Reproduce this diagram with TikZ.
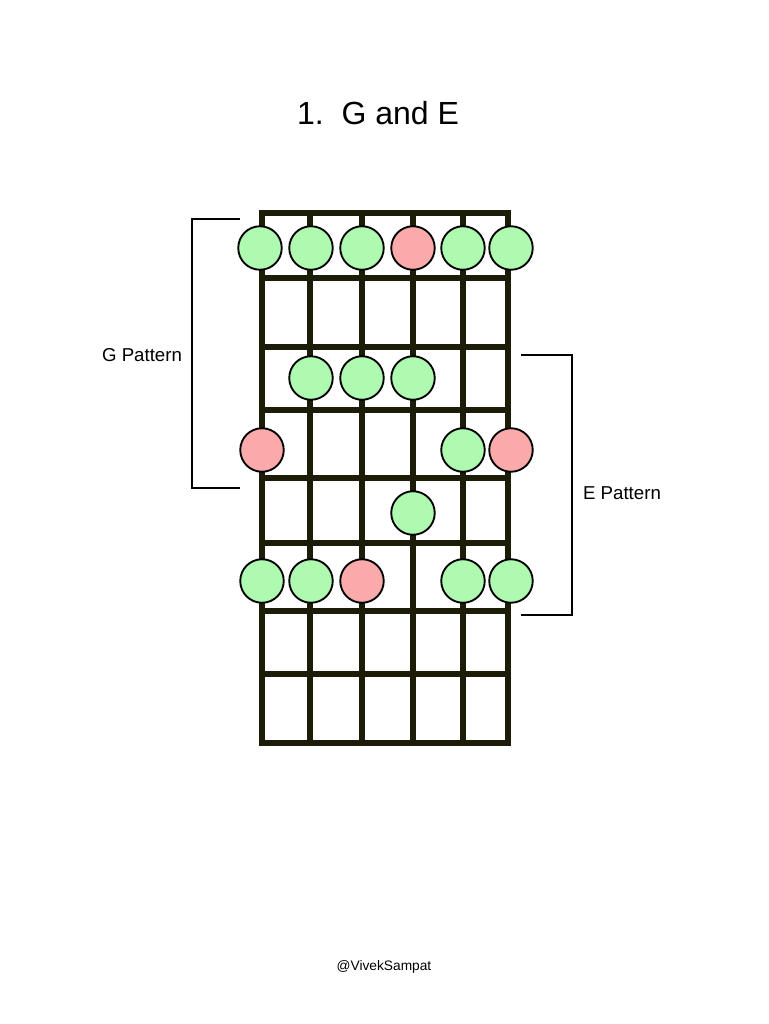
\documentclass[tikz,border=0pt]{standalone}
\usepackage{fontspec}
\setmainfont{Liberation Sans}
\begin{document}
\begin{tikzpicture}[x=0.75pt,y=-0.75pt,
  fret/.style={line width=4.3pt,line cap=rect,color={rgb,255:red,28;green,28;blue,8}},
  gdot/.style={circle,draw=black,line width=1.4pt,fill={rgb,255:red,173;green,250;blue,176},minimum size=43.5*0.75pt,inner sep=0pt},
  rdot/.style={gdot,fill={rgb,255:red,250;green,170;blue,170}},
  brk/.style={line width=1.1pt,black},
  lbl/.style={font=\fontsize{14}{16}\selectfont}]
\useasboundingbox (0,0) rectangle (768,1024);
\node (title) at (378,113) {\fontsize{24}{28}\selectfont 1.\ \ G and E};
\foreach \x in {262,310,362,413,463,508} \draw[fret] (\x,213) -- (\x,743);
\foreach \y in {213,278,347,410,478,543,611,674,743} \draw[fret] (262,\y) -- (508,\y);
\foreach \x/\s in {260/gdot,311/gdot,362/gdot,413/rdot,463/gdot,511/gdot} \node[\s] at (\x,248) {};
\foreach \x in {311,362,413} \node[gdot] at (\x,378) {};
\foreach \x/\s in {262/rdot,463/gdot,511/rdot} \node[\s] at (\x,450) {};
\node[gdot] at (413,513) {};
\foreach \x/\s in {262/gdot,311/gdot,362/rdot,463/gdot,511/gdot} \node[\s] at (\x,581) {};
\coordinate (g1) at (240,219); \coordinate (g2) at (240,488);
\draw[brk] (g1) -- (192,219) -- (192,488) -- (g2);
\coordinate (e1) at (521,355); \coordinate (e2) at (521,615);
\draw[brk] (e1) -- (572,355) -- (572,615) -- (e2);
\node[lbl] (gl) at (142,355) {G Pattern};
\node[lbl] (el) at (622,493) {E Pattern};
\node (foot) at (384,967) {\fontsize{10.3}{12}\selectfont @VivekSampat};
\end{tikzpicture}
\end{document}
